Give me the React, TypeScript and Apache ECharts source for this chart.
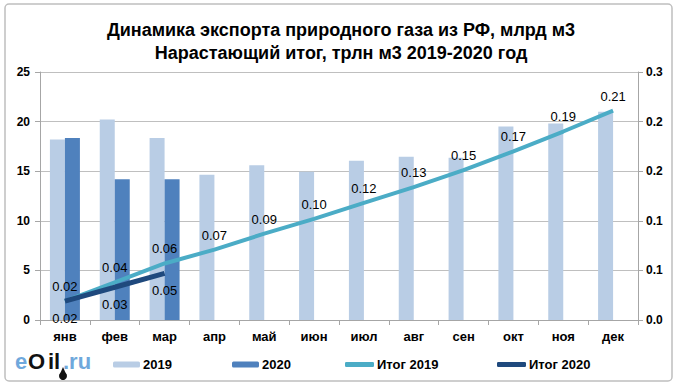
import React, { useEffect, useRef } from "react";
import * as echarts from "echarts";

const MONTHS = ["янв", "фев", "мар", "апр", "май", "июн", "июл", "авг", "сен", "окт", "ноя", "дек"];
const EXPORT_2019 = [18.2, 20.2, 18.35, 14.65, 15.6, 14.95, 16.05, 16.45, 16.35, 19.5, 19.8, 21.0];
const EXPORT_2020 = [18.35, 14.2, 14.2];
const TOTAL_2019 = [0.019, 0.038, 0.057, 0.071, 0.087, 0.102, 0.118, 0.134, 0.151, 0.17, 0.19, 0.211];
const TOTAL_2020 = [0.019, 0.033, 0.047];
const RIGHT_TICKS = ["0.0", "0.1", "0.1", "0.2", "0.2", "0.3"];
const LEFT_TICKS = ["0", "5", "10", "15", "20", "25"];

const FONT = "'Liberation Sans Narrow', 'Liberation Sans', Arial, sans-serif";
const LOGO_FONT = "'Liberation Sans', Arial, sans-serif";

export default function App() {
  const ref = useRef<HTMLDivElement>(null);
  useEffect(() => {
    document.body.style.margin = "0";
    if (!ref.current) return;
    const chart = echarts.init(ref.current, null, { renderer: "svg" });
    const axisGray = "#a6a6a6";
    const legendText = { fontFamily: FONT, fontSize: 13, fontWeight: "bold", color: "#000", padding: [0, 0, 0, -2] };
    const legendBase = { top: 358, itemGap: 0, padding: 0, textStyle: legendText };
    const labelFmt = (p: any) => Number(p.value).toFixed(2);
    const logoText = (text: string, x: number, fill: string) => ({
      type: "text",
      x,
      y: 372,
      z: 10,
      style: { text, fontFamily: LOGO_FONT, fontSize: 22, fontWeight: "bold", fill, textVerticalAlign: "bottom" },
    });
    chart.setOption({
      animation: false,
      backgroundColor: "#fff",
      textStyle: { fontFamily: FONT },
      title: {
        text: "Динамика экспорта природного газа из РФ, млрд м3\nНарастающий итог, трлн м3 2019-2020 год",
        left: "center",
        top: 13,
        textStyle: { fontFamily: FONT, fontSize: 18, fontWeight: "bold", color: "#000", lineHeight: 23 },
      },
      grid: { left: 40, right: 44, top: 72, bottom: 69 },
      legend: [
        { ...legendBase, data: ["2019"], left: 113, itemWidth: 27, itemHeight: 6 },
        { ...legendBase, data: ["2020"], left: 232, itemWidth: 27, itemHeight: 6 },
        { ...legendBase, data: [{ name: "Итог 2019", icon: "roundRect" }], left: 345, itemWidth: 29, itemHeight: 5 },
        { ...legendBase, data: [{ name: "Итог 2020", icon: "roundRect" }], left: 497, itemWidth: 29, itemHeight: 5 },
      ],
      xAxis: {
        type: "category",
        data: MONTHS,
        axisLine: { lineStyle: { color: axisGray } },
        axisTick: { show: true, length: 5, lineStyle: { color: axisGray } },
        axisLabel: { fontFamily: FONT, fontSize: 13, fontWeight: "bold", color: "#000", margin: 10 },
      },
      yAxis: [
        {
          type: "value",
          min: 0,
          max: 25,
          interval: 5,
          axisLine: { show: true, lineStyle: { color: axisGray } },
          axisTick: { show: true, length: 5, lineStyle: { color: axisGray } },
          splitLine: { lineStyle: { color: "#bfbfbf" } },
          axisLabel: {
            fontFamily: FONT,
            fontSize: 12,
            fontWeight: "bold",
            color: "#000",
            margin: 10,
            formatter: (_v: number, i: number) => LEFT_TICKS[i],
          },
        },
        {
          type: "value",
          min: 0,
          max: 0.25,
          interval: 0.05,
          position: "right",
          axisLine: { show: true, lineStyle: { color: axisGray } },
          axisTick: { show: true, length: 5, lineStyle: { color: axisGray } },
          splitLine: { show: false },
          axisLabel: {
            fontFamily: FONT,
            fontSize: 12,
            fontWeight: "bold",
            color: "#000",
            margin: 8,
            formatter: (_v: number, i: number) => RIGHT_TICKS[i],
          },
        },
      ],
      series: [
        {
          name: "2019",
          type: "bar",
          data: EXPORT_2019,
          barWidth: 15,
          barGap: "0%",
          itemStyle: { color: "#b9cde5" },
        },
        {
          name: "2020",
          type: "bar",
          data: EXPORT_2020,
          barWidth: 15,
          barGap: "0%",
          itemStyle: { color: "#4f81bd" },
        },
        {
          name: "Итог 2019",
          type: "line",
          yAxisIndex: 1,
          data: TOTAL_2019,
          showSymbol: true,
          symbol: "circle",
          symbolSize: 0.1,
          lineStyle: { color: "#4bacc6", width: 4 },
          itemStyle: { color: "#4bacc6" },
          label: {
            show: true,
            position: "top",
            distance: 8,
            fontFamily: FONT,
            fontSize: 13,
            color: "#000",
            formatter: labelFmt,
          },
        },
        {
          name: "Итог 2020",
          type: "line",
          yAxisIndex: 1,
          data: TOTAL_2020,
          showSymbol: true,
          symbol: "circle",
          symbolSize: 0.1,
          lineStyle: { color: "#1f497d", width: 5 },
          itemStyle: { color: "#1f497d" },
          label: {
            show: true,
            position: "bottom",
            distance: 11,
            fontFamily: FONT,
            fontSize: 13,
            color: "#000",
            formatter: labelFmt,
          },
        },
      ],
      graphic: [
        {
          type: "rect",
          shape: { x: 5, y: 4, width: 667, height: 377, r: 4 },
          style: { fill: "none", stroke: "#bfbfbf", lineWidth: 1.5 },
          silent: true,
        },
        logoText("e", 15, "#6fa8dc"),
        logoText("O", 28, "#111111"),
        logoText("il", 48, "#111111"),
        logoText(".ru", 63, "#6fa8dc"),
        {
          type: "polygon",
          z: 11,
          shape: { points: [[63, 367], [59.5, 375], [66.5, 375]] },
          style: { fill: "#111" },
        },
        {
          type: "circle",
          z: 11,
          shape: { cx: 63, cy: 376, r: 4 },
          style: { fill: "#111" },
        },
      ],
    });
    return () => chart.dispose();
  }, []);
  return <div ref={ref} style={{ width: 682, height: 389 }} />;
}
